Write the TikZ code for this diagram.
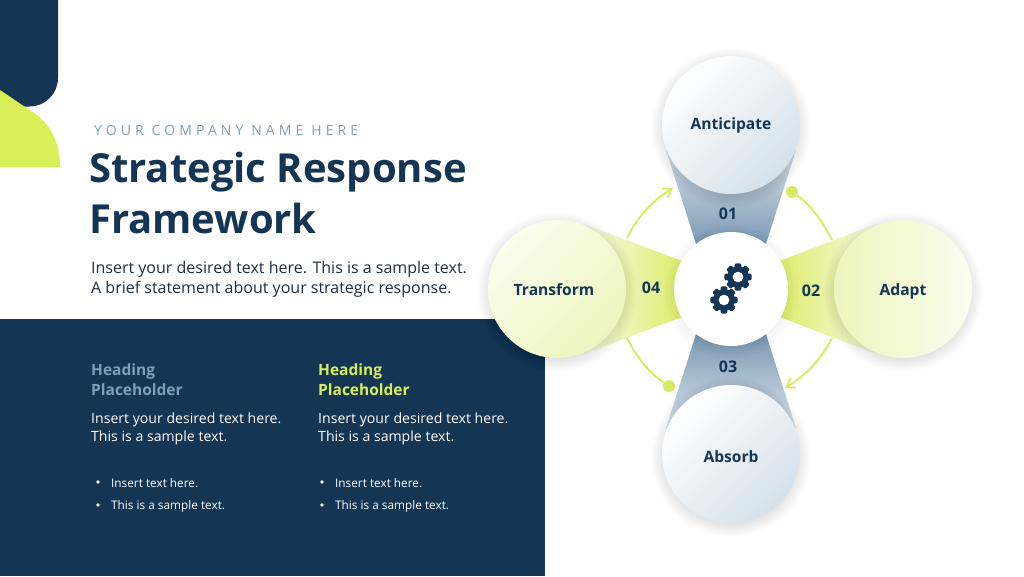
\documentclass[tikz,border=0pt]{standalone}
\usepackage{fontspec}
\setmainfont{Open Sans}
\usetikzlibrary{arrows.meta}
\definecolor{navy}{HTML}{143654}
\definecolor{lime}{HTML}{D9EF58}
\definecolor{limeline}{HTML}{D8EA62}
\definecolor{steel}{HTML}{7F9FBB}
\definecolor{wedgeblue}{HTML}{7594B0}
\definecolor{wedgelight}{HTML}{DCE5EC}
\definecolor{wedgelime}{HTML}{DAEC62}
\definecolor{wedgepale}{HTML}{F8FAE8}
\definecolor{bluelo}{HTML}{D5E1EA}
\definecolor{greenlo}{HTML}{EDF5BE}
\definecolor{greenhi}{HTML}{FBFDEE}
\definecolor{bodygrey}{HTML}{1E2F40}
\tikzset{
  ball/.style={circle,minimum size=138pt,inner sep=0pt,text=navy,text height=15pt,text depth=3pt,font=\fontsize{15.6}{19}\selectfont\bfseries},
  blueball/.style={ball,left color=white,right color=bluelo,shading angle=45},
  greenball/.style={ball,left color=greenhi,right color=greenlo,shading angle=45},
  hub/.style={circle,minimum size=114pt,inner sep=0pt,fill=white},
  numlabel/.style={text=navy,font=\fontsize{16}{19}\selectfont\bfseries,inner sep=0pt},
  flow/.style={draw=limeline,line width=1.9pt},
  flowtip/.style={flow,-{Straight Barb[length=8pt,width=11pt,line width=1.9pt]}},
  flowdot/.style={circle,fill=limeline,minimum size=12pt,inner sep=0pt},
  lefttext/.style={anchor=west,align=left,inner sep=0pt},
  bodytext/.style={lefttext,text=bodygrey,font=\fontsize{16}{20}\selectfont},
  paneltext/.style={lefttext,text=white,font=\fontsize{14.1}{18.5}\selectfont},
  panelbullet/.style={lefttext,text=white,font=\fontsize{11.8}{15}\selectfont},
  panelhead/.style={lefttext,font=\fontsize{15.5}{20}\selectfont\bfseries},
  bulletdot/.style={circle,fill=white,minimum size=3.6pt,inner sep=0pt},
}
\newcommand{\softshadow}[4]{%
  \foreach \k in {1,...,16}{\fill[black,opacity=#4] (#1,#2+3) circle[radius=#3-5+\k];}}
\newcommand{\gearshape}[2]{%
  \fill[navy] (#1,#2) circle[radius=10.8];
  \foreach \a in {0,45,...,315}{\fill[navy,rounded corners=1.2pt,shift={(#1,#2)},rotate=\a] (-3.3,-9) rectangle (3.3,-13.6);}
  \fill[white] (#1,#2) circle[radius=5.3];}
\begin{document}
\begin{tikzpicture}[x=1pt,y=-1pt]
\useasboundingbox (0,0) rectangle (1024,576);
% decoration top left
\fill[navy] (0,0) -- (58,0) -- (58,78) arc[start angle=0,end angle=90,radius=28.5] -- (0,106.5) -- cycle;
\fill[lime] (0,90) -- (34,113) .. controls (50,124) and (60,142) .. (60,167) -- (0,167) -- cycle;
% panel
\fill[navy] (0,319) rectangle (545,576);
% wedges
\shade[top color=wedgelight,bottom color=wedgeblue] (666,150) -- (698,250) -- (764,250) -- (796,150) -- cycle;
\shade[top color=wedgeblue,bottom color=wedgelight] (698,328) -- (666,428) -- (796,428) -- (764,328) -- cycle;
\shade[left color=wedgepale,right color=wedgelime] (584,224) -- (690,264) -- (690,314) -- (584,354) -- cycle;
\shade[left color=wedgelime,right color=wedgepale] (772,264) -- (876,224) -- (876,354) -- (772,314) -- cycle;
% shadows
\softshadow{731}{125}{69}{0.0075}
\softshadow{731}{454}{69}{0.0075}
\softshadow{557}{289}{69}{0.0075}
\softshadow{903}{289}{69}{0.0075}
\softshadow{731}{289}{57}{0.003}
% circles
\node[blueball] (anticipate) at (731,125) {\raisebox{2pt}{Anticipate}};
\node[blueball] (absorb) at (731,454) {\raisebox{-2pt}{Absorb}};
\node[greenball] (transform) at (557,289) {\hspace*{-6pt}Transform};
\node[greenball,left color=greenlo,right color=greenhi] (adapt) at (903,289) {Adapt};
\node[hub] (hub) at (731,289) {};
% gears
\gearshape{738}{277}
\gearshape{724}{300}
% numbers
\node[numlabel] (n1) at (728,214) {01};
\node[numlabel] (n2) at (811,291) {02};
\node[numlabel] (n3) at (728,367) {03};
\node[numlabel] (n4) at (651,288) {04};
% arrows
\coordinate (a1) at (627,238); \coordinate (a2) at (673,188);
\coordinate (b1) at (832,240);
\coordinate (c1) at (832,338); \coordinate (c2) at (785,388);
\coordinate (d1) at (627,338);
\node[flowdot] (dotb) at (792,192) {};
\node[flowdot] (dotd) at (669,386) {};
\draw[flowtip] (a1) .. controls (638,216) and (652,201) .. (a2);
\draw[flow] (b1) .. controls (821,218) and (808,203) .. (dotb);
\draw[flowtip] (c1) .. controls (821,360) and (806,375) .. (c2);
\draw[flow] (d1) .. controls (638,360) and (652,375) .. (dotd);
% texts
\node[lefttext,text=steel,font=\fontsize{14}{17}\selectfont\addfontfeature{LetterSpace=29.5}] (tag) at (94,130.5) {YOUR COMPANY NAME HERE};
\node[lefttext,text=navy,font=\fontsize{40}{51}\selectfont\bfseries] (title) at (89,193) {Strategic Response\\Framework};
\node[bodytext] (body) at (91,279.5) {Insert your desired text here. This is a sample text.\\A brief statement about your strategic response.};
\node[panelhead,text=steel] (h1) at (91,380) {Heading\\Placeholder};
\node[panelhead,text=lime] (h2) at (318,380) {Heading\\Placeholder};
\node[paneltext] (p1) at (91,429) {Insert your desired text here.\\This is a sample text.};
\node[paneltext] (p2) at (318,429) {Insert your desired text here.\\This is a sample text.};
\node[bulletdot] (d1a) at (98,482) {};
\node[bulletdot] (d1b) at (98,505) {};
\node[bulletdot] (d2a) at (322,482) {};
\node[bulletdot] (d2b) at (322,505) {};
\node[panelbullet] (b1a) at (111,483) {Insert text here.};
\node[panelbullet] (b1b) at (111,506) {This is a sample text.};
\node[panelbullet] (b2a) at (335,483) {Insert text here.};
\node[panelbullet] (b2b) at (335,506) {This is a sample text.};
\end{tikzpicture}
\end{document}
